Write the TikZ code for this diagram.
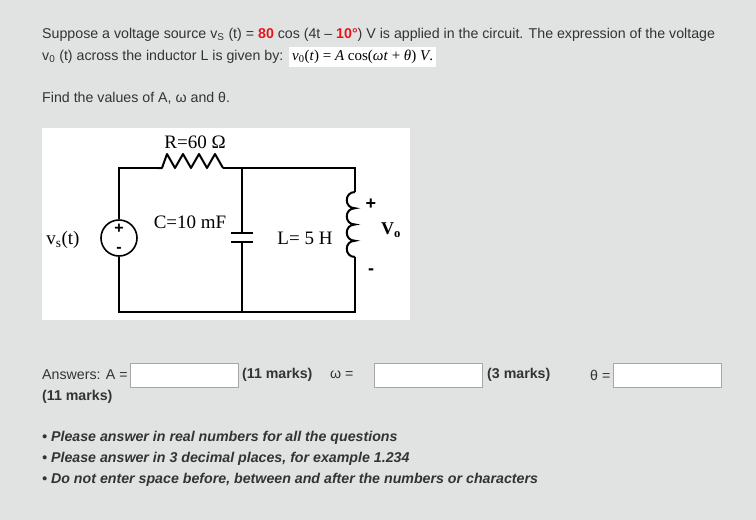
\documentclass[tikz,border=0pt]{standalone}
\usepackage{fontspec}
\setmainfont{Liberation Sans}
\newfontfamily\tms{Liberation Serif}
\definecolor{bg}{HTML}{E1E3E3}
\definecolor{rd}{HTML}{E8141B}
\definecolor{tx}{HTML}{333333}
\begin{document}
\begin{tikzpicture}[x=1pt,y=-1pt,
  txt/.style={anchor=west,inner sep=0,font=\fontsize{14.2}{16}\selectfont,text=tx},
  bul/.style={txt,font=\fontsize{14.2}{16}\selectfont\bfseries\itshape},
  ansbox/.style={draw=gray!70,fill=white,minimum width=108pt,minimum height=24pt,inner sep=0,anchor=west},
  ctext/.style={inner sep=0,font=\tms\fontsize{19}{20}\selectfont},
  wire/.style={line width=2pt}]
\fill[bg] (0,0) rectangle (756,520);
\useasboundingbox (0,0) rectangle (756,520);
\node[txt] (l1) at (42,35) {Suppose a voltage source v\textsubscript{S} (t) = \textcolor{rd}{\bfseries 80} cos (4t – \textcolor{rd}{\bfseries 10°}) V is applied in the circuit. The expression of the voltage};
\node[txt] (l2) at (42,57) {v\textsubscript{0} (t) across the inductor L is given by:};
\node[fill=white,inner sep=3pt,anchor=west,font=\tms\fontsize{15}{16}\selectfont] (eq) at (289,57) {\textit{v}\textsubscript{0}(\textit{t}) = \textit{A} cos(\textit{ωt} + \textit{θ}) \textit{V}.};
\node[txt] (l3) at (42,98) {Find the values of A, ω and θ.};
% circuit
\fill[white] (42,128) rectangle (410,320);
\coordinate (tl) at (119,168); \coordinate (bl) at (119,312);
\coordinate (tm) at (242,168); \coordinate (bm) at (242,312);
\coordinate (tr) at (355,168); \coordinate (br) at (355,312);
\coordinate (r1) at (158,168); \coordinate (r2) at (223,168);
\node[draw,circle,line width=1.6pt,minimum size=36pt,inner sep=0] (src) at (119,238) {};
\node[font=\bfseries\fontsize{16}{16}\selectfont,inner sep=0] (sp) at (119,229) {+};
\node[font=\bfseries\fontsize{16}{16}\selectfont,inner sep=0] (sm) at (119,250) {-};
\draw[wire] (src.north) -- (tl) -- (r1);
\draw[wire,line join=round] (r1) -- ++(4,0) -- ++(5,-14) -- ++(8,14) -- ++(8,-14) -- ++(8,14) -- ++(8,-14) -- ++(8,14) -- ++(8,-14) -- (r2);
\draw[wire] (r2) -- (tr) -- (355,192);
\draw[wire] (src.south) -- (bl) -- (br) -- (355,257);
\draw[wire] (tm) -- (242,233); \draw[wire] (242,242) -- (bm);
\draw[wire] (231,233) -- (253,233); \draw[wire] (231,242) -- (253,242);
\draw[wire] (355,192) .. controls (344,192) and (344,208.25) .. (355,208.25)
  .. controls (344,208.25) and (344,224.5) .. (355,224.5)
  .. controls (344,224.5) and (344,240.75) .. (355,240.75)
  .. controls (344,240.75) and (344,257) .. (355,257);
\node[ctext] (rl) at (195,142) {R=60 Ω};
\node[ctext] (cl) at (190,222) {C=10 mF};
\node[ctext] (ll) at (305,238) {L= 5 H};
\node[ctext] (vs) at (63,240) {v\textsubscript{s}(t)};
\node[inner sep=0,font=\bfseries\fontsize{18}{18}\selectfont] (lp) at (371,204) {+};
\node[inner sep=0,font=\bfseries\fontsize{18}{18}\selectfont] (lm) at (371,272) {-};
\node[ctext,font=\tms\bfseries\fontsize{18}{18}\selectfont] (vo) at (391,230) {V\textsubscript{o}};
% answers
\node[txt] (a1) at (42,375) {Answers: A =};
\node[ansbox] (b1) at (130,375) {};
\node[txt,font=\fontsize{14.2}{16}\selectfont\bfseries] (m1) at (242,375) {(11 marks)};
\node[txt] (w) at (330,375) {ω =};
\node[ansbox] (b2) at (374,375) {};
\node[txt,font=\fontsize{14.2}{16}\selectfont\bfseries] (m2) at (487,375) {(3 marks)};
\node[txt] (th) at (590,375) {θ =};
\node[ansbox] (b3) at (613,375) {};
\node[txt,font=\fontsize{14.2}{16}\selectfont\bfseries] (m3) at (42,397) {(11 marks)};
\node[bul] (u1) at (42,438) {• Please answer in real numbers for all the questions};
\node[bul] (u2) at (42,459) {• Please answer in 3 decimal places, for example 1.234};
\node[bul] (u3) at (42,480) {• Do not enter space before, between and after the numbers or characters};
\end{tikzpicture}
\end{document}
